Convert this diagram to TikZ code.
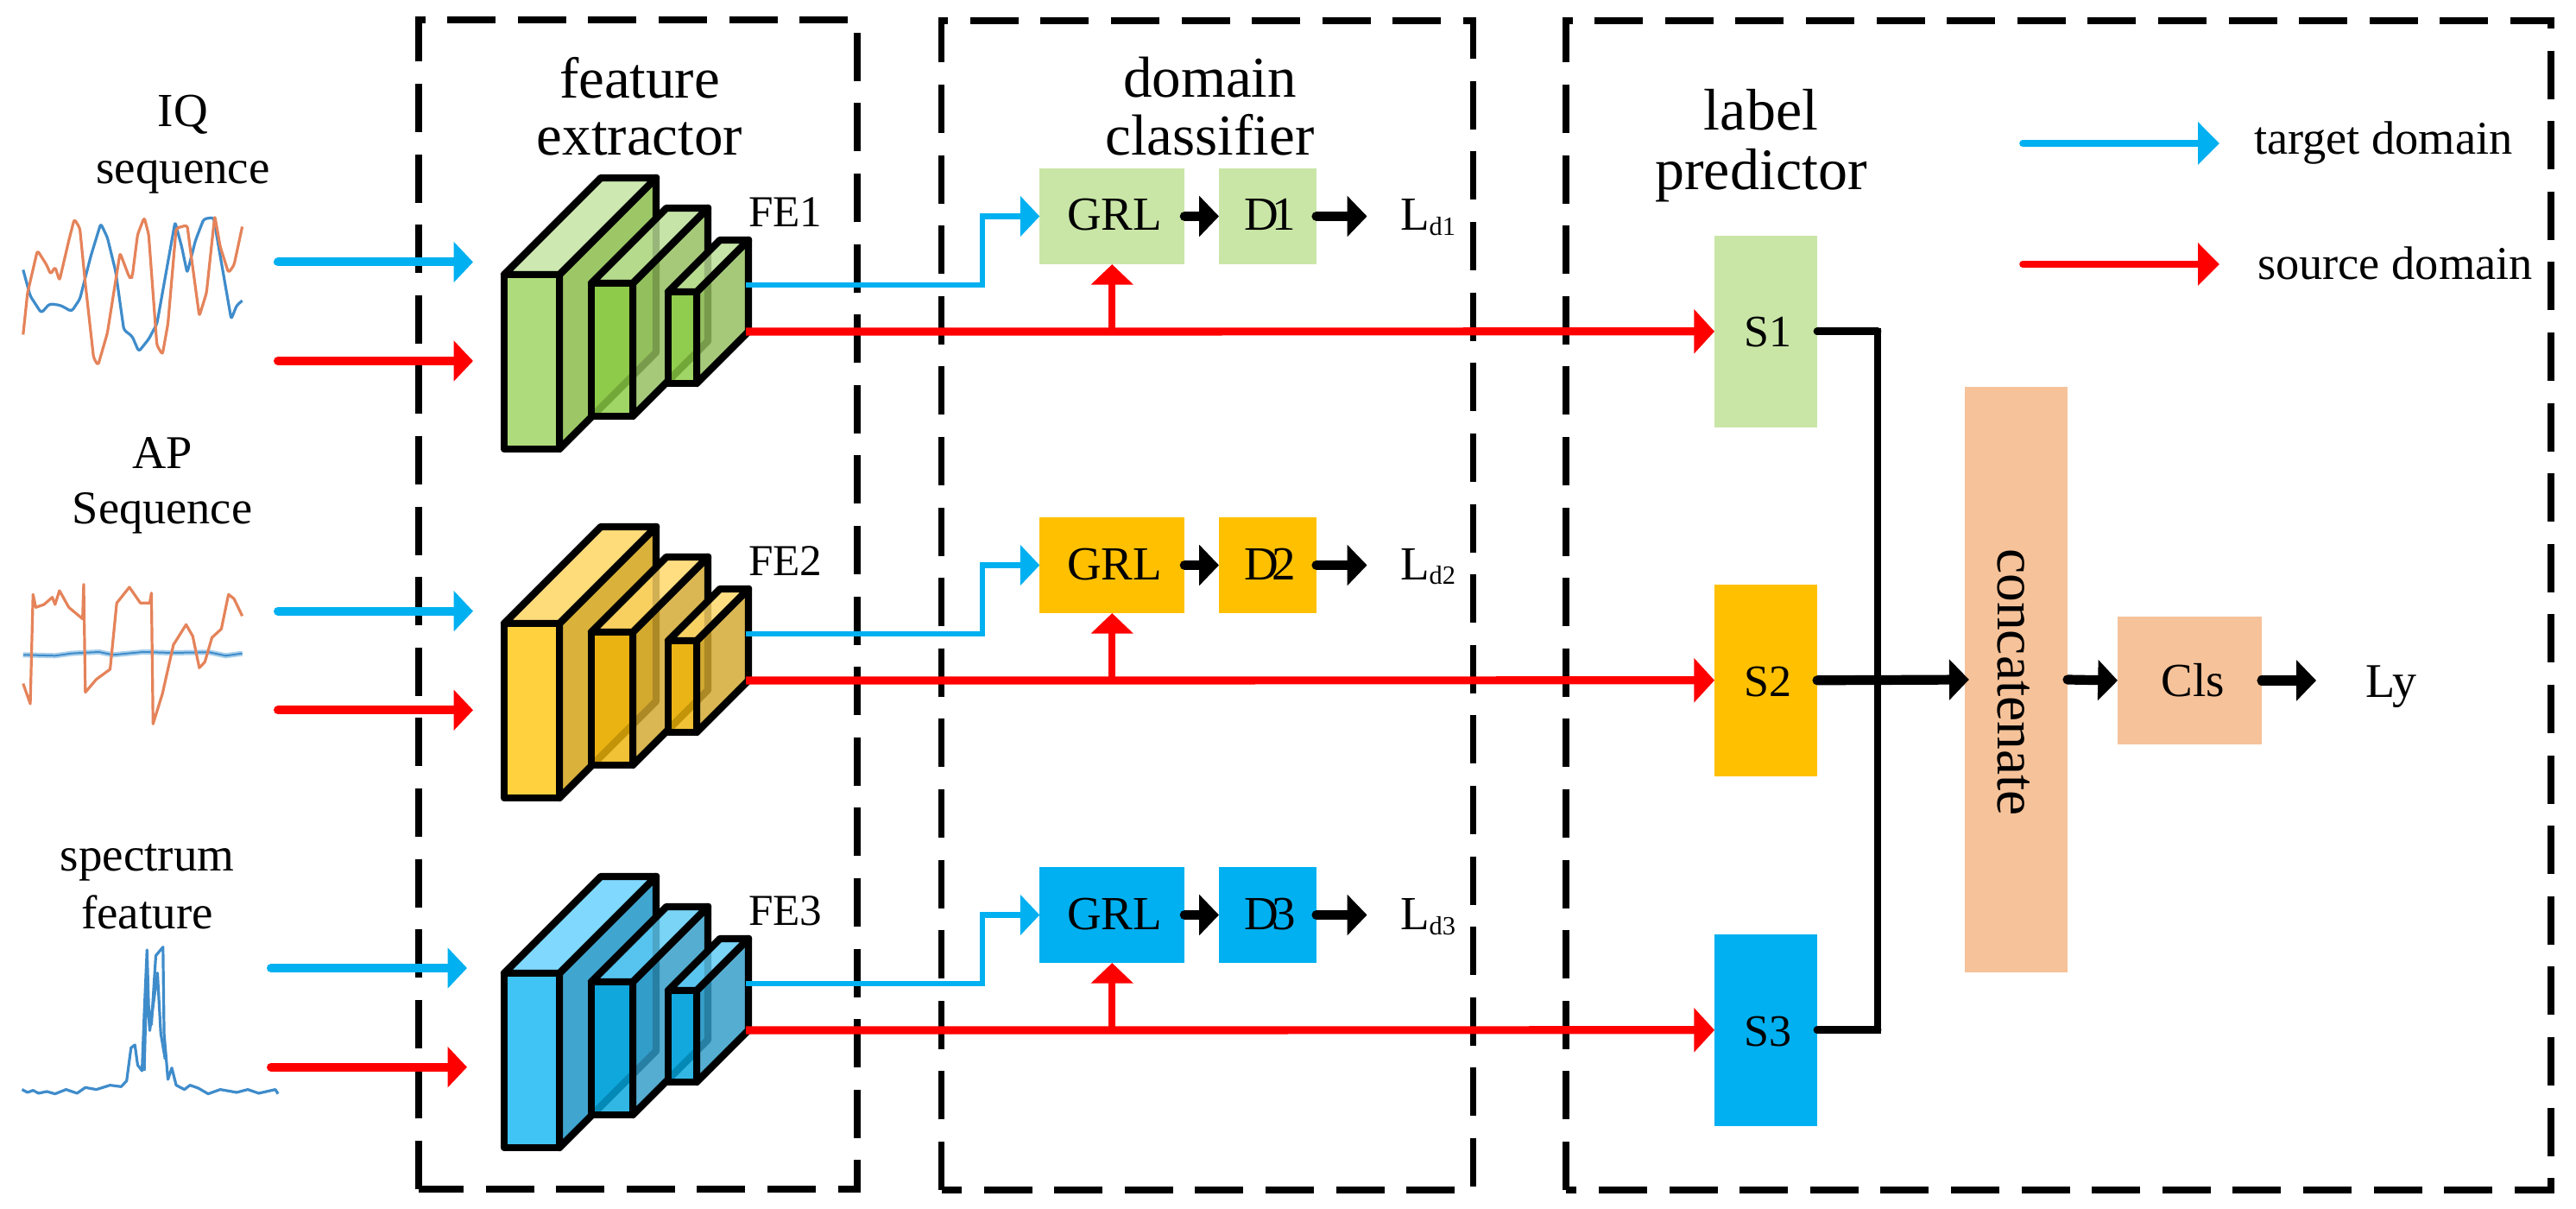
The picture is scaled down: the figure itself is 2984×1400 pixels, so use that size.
\documentclass[tikz,border=0pt]{standalone}
\usepackage{fontspec}
\setmainfont{Liberation Serif}
\usetikzlibrary{arrows.meta,calc}
\definecolor{cblue}{HTML}{00B0F0}
\definecolor{cred}{HTML}{FF0000}
\definecolor{lgreen}{HTML}{C9E6A7}
\definecolor{lorange}{HTML}{FFC000}
\definecolor{peach}{HTML}{F6C299}
\definecolor{wfo}{HTML}{E5835A}
\definecolor{wfb}{HTML}{3F8CCB}
\definecolor{wfl}{HTML}{A9CFEA}
% cuboid colours: front, top, side, mid-front, mid-top, mid-side
\definecolor{gf}{HTML}{AEDC7C}\definecolor{gt}{HTML}{CDE8B0}\definecolor{gs}{HTML}{9DC766}
\definecolor{gm}{HTML}{8CCD45}\definecolor{gmt}{HTML}{BBDF95}\definecolor{gms}{HTML}{92BE5C}
\definecolor{yf}{HTML}{FFD13F}\definecolor{yt}{HTML}{FFDC7A}\definecolor{ys}{HTML}{D9B13B}
\definecolor{ym}{HTML}{EFB40A}\definecolor{ymt}{HTML}{FFD767}\definecolor{yms}{HTML}{D2A82C}
\definecolor{bf}{HTML}{40C4F5}\definecolor{bt}{HTML}{80D8FF}\definecolor{bs}{HTML}{40A5CF}
\definecolor{bm}{HTML}{05A8E0}\definecolor{bmt}{HTML}{5CCBF5}\definecolor{bms}{HTML}{309CC8}
\tikzset{
  x=0.25pt,y=-0.25pt,
  dashbox/.style={draw=black,line width=1.9pt,dash pattern=on 14pt off 6.4pt},
  cubeline/.style={draw=black,line width=2.1pt,line join=round},
  block/.style={rectangle,draw=none,inner sep=0pt,outer sep=0pt,minimum width=#1},
  txt/.style={inner sep=0pt,outer sep=0pt,font=\fontsize{13.75pt}{16.5pt}\selectfont},
  big/.style={inner sep=0pt,outer sep=0pt,align=center,font=\fontsize{16.75pt}{16.5pt}\selectfont},
  wave/.style={line width=0.8pt,line join=round,rounded corners=0.8pt},
  inblue/.style={draw=cblue,line width=2.5pt,line cap=round,-{Triangle[length=5.6pt,width=11.5pt]}},
  inred/.style={draw=cred,line width=2.5pt,line cap=round,-{Triangle[length=5.6pt,width=11.5pt]}},
  legblue/.style={draw=cblue,line width=1.9pt,line cap=round,-{Triangle[length=6.2pt,width=12pt]}},
  legred/.style={draw=cred,line width=1.9pt,line cap=round,-{Triangle[length=6.2pt,width=12pt]}},
  fewire/.style={draw=cblue,line width=1.7pt,line join=miter,-{Triangle[length=5.6pt,width=11.5pt]}},
  redbus/.style={draw=cred,line width=2.3pt,-{Triangle[length=5.9pt,width=12.5pt]}},
  redup/.style={draw=cred,line width=1.9pt,-{Triangle[length=5.9pt,width=12pt]}},
  blk/.style={draw=black,line width=2.8pt,line cap=round,-{Triangle[length=5.7pt,width=11.5pt]}},
}
\newcommand{\cuboid}[9]{%
  \draw[cubeline,fill=#8,fill opacity=#9] (#3,#2)--(#3+#5,#2-#5)--(#3+#5,#4-#5)--(#3,#4)--cycle;
  \draw[cubeline,fill=#7,fill opacity=#9] (#1,#2)--(#3,#2)--(#3+#5,#2-#5)--(#1+#5,#2-#5)--cycle;
  \draw[cubeline,fill=#6,fill opacity=#9] (#1,#2) rectangle (#3,#4);
}
% \rowblock{n}{front}{top}{side}{mfront}{mtop}{mside}{box colour}
\newcommand{\rowblock}[8]{%
  \cuboid{584}{318}{648}{520}{112}{#2}{#3}{#4}{1}
  \cuboid{685}{328}{733}{482}{87}{#5}{#6}{#7}{.82}
  \cuboid{774}{338}{807}{444}{60}{#5}{#6}{#7}{.82}
  \node[txt,anchor=base west,font=\fontsize{12.8pt}{15pt}\selectfont] (felab#1) at (867,262.5) {FE#1};
  \coordinate (fe#1t) at (864,330);
  \coordinate (fe#1r) at (864,384);
  \coordinate (k#1) at (1138,330);
  \node[block=42pt,minimum height=27.8pt,fill=#8] (grl#1) at (1288.25,250.5) {};
  \node[txt,anchor=base] (grltxt#1) at (1291,267) {GRL};
  \node[block=28.25pt,minimum height=27.8pt,fill=#8] (d#1) at (1468.5,250.5) {};
  \node[txt,anchor=base] (dtxt#1) at (1471,267) {D\kern-2pt#1};
  \coordinate (l#1) at (1583.5,250.5);
  \node[txt,anchor=base west] (ld#1) at (1622,267) {L\raisebox{-1.5pt}{\fontsize{7.6pt}{9pt}\selectfont d#1}};
  \node[block=29.75pt,minimum height=55.4pt,fill=#8] (s#1) at (2045.5,383.8) {};
  \node[txt,anchor=base,font=\fontsize{13pt}{15pt}\selectfont] (stxt#1) at (2048,402) {S#1};
  \draw[fewire] (fe#1t) -- (k#1) |- (grl#1.west);
  \draw[redbus] (fe#1r) -- (s#1.west);
  \draw[redup] (grl#1.south |- fe#1r) -- (grl#1.south);
  \draw[blk] (grl#1.east) -- (d#1.west);
  \draw[blk] (d#1.east) -- (l#1);
}
\begin{document}
\begin{tikzpicture}
\useasboundingbox (0,0) rectangle (2984,1400);
\fill[white] (0,0) rectangle (2984,1400);

% dashed containers
\draw[dashbox] (485,1377) rectangle (993,23);
\draw[dashbox] (1090.5,1378) rectangle (1706.6,24);
\draw[dashbox] (1814,1378) rectangle (2955,24);

% titles
\node[big] (t1) at (741,123.6) {feature\\extractor};
\node[big,font=\fontsize{16.75pt}{16.75pt}\selectfont] (t2) at (1401.5,123) {domain\\classifier};
\node[big,font=\fontsize{17pt}{17.25pt}\selectfont] (t3) at (2040,168.5) {label\\predictor};

% inputs
\node[txt,align=center] (in1) at (212,166.8) {IQ\\sequence};
\node[txt,align=center,font=\fontsize{13.6pt}{16pt}\selectfont] (in2) at (188,562.5) {AP\\Sequence};
\node[txt,align=center,font=\fontsize{13.75pt}{16.7pt}\selectfont] (in3) at (170.5,1027) {spectrum\\feature};

% waveforms
\begin{scope}[xscale=0.6378,yscale=0.3571]
\draw[wave,wfb] (42,875)--(55,960)--(75,1015)--(90,985)--(110,990)--(130,1010)--(145,970)--(165,830)--(183,725)--(195,770)--(210,880)--(225,1070)--(240,1090)--(252,1140)--(270,1100)--(285,1050)--(300,900)--(318,720)--(330,800)--(340,885)--(355,780)--(370,710)--(388,705)--(400,830)--(420,1035)--(430,990)--(440,975);
\draw[wave,wfo] (42,1085)--(50,950)--(68,812)--(85,860)--(92,890)--(100,865)--(108,910)--(125,780)--(135,710)--(145,740)--(155,920)--(170,1160)--(178,1185)--(195,1080)--(218,820)--(235,900)--(240,900)--(250,760)--(262,705)--(270,760)--(285,1120)--(295,1150)--(305,1050)--(320,740)--(340,730)--(345,800)--(362,1025)--(375,950)--(390,700)--(400,800)--(415,885)--(425,860)--(440,735);
\end{scope}
\begin{scope}[shift={(0,480)},xscale=0.6378,yscale=0.3333]
\draw[line width=1.5pt,wfl] (42,835)--(100,838)--(130,830)--(180,825)--(205,835)--(260,825)--(310,828)--(380,826)--(410,838)--(440,830);
\draw[line width=0.5pt,wfb] (42,835)--(100,838)--(130,830)--(180,825)--(205,835)--(260,825)--(310,828)--(380,826)--(410,838)--(440,830);
\draw[line width=0.8pt,line join=round,wfo] (42,935)--(55,1005)--(60,625)--(65,670)--(80,660)--(95,635)--(100,660)--(108,612)--(125,670)--(150,710)--(152,590)--(155,965)--(175,920)--(200,885)--(212,655)--(235,600)--(255,655)--(272,655)--(275,620)--(278,1075)--(295,970)--(315,800)--(338,730)--(350,770)--(362,880)--(372,860)--(385,775)--(402,745)--(415,625)--(425,640)--(440,700);
\end{scope}
\begin{scope}[shift={(0,940)},xscale=0.6378,yscale=0.3333]
\draw[line width=0.8pt,line join=round,wfb] (40,965)--(50,975)--(60,968)--(70,978)--(85,972)--(100,980)--(120,965)--(140,978)--(155,958)--(175,965)--(200,950)--(220,955)--(230,935)--(238,820)--(245,810)--(250,880)--(258,900)--(262,700)--(267,480)--(270,680)--(275,740)--(283,500)--(296,470)--(298,770)--(305,930)--(312,890)--(320,950)--(335,965)--(345,950)--(360,960)--(378,980)--(400,965)--(430,975)--(450,965)--(470,978)--(500,965)--(505,980);
\draw[line width=0.8pt,line join=round,wfb] (262,900)--(266,600)--(272,760)--(286,560)--(292,770)--(300,860);
\end{scope}

% input arrows
\coordinate (a1s) at (322,303.5); \coordinate (a1e) at (548,303.5);
\coordinate (b1s) at (322,418);   \coordinate (b1e) at (548,418);
\coordinate (a2s) at (322,707.7); \coordinate (a2e) at (548,707.7);
\coordinate (b2s) at (322,822.3); \coordinate (b2e) at (548,822.3);
\coordinate (a3s) at (314,1121);  \coordinate (a3e) at (541,1121);
\coordinate (b3s) at (314,1235.7);\coordinate (b3e) at (541,1235.7);
\draw[inblue] (a1s) -- (a1e); \draw[inred] (b1s) -- (b1e);
\draw[inblue] (a2s) -- (a2e); \draw[inred] (b2s) -- (b2e);
\draw[inblue] (a3s) -- (a3e); \draw[inred] (b3s) -- (b3e);

% three rows
\begin{scope}
\rowblock{1}{gf}{gt}{gs}{gm}{gmt}{gms}{lgreen}
\end{scope}
\begin{scope}[shift={(0,404)}]
\rowblock{2}{yf}{yt}{ys}{ym}{ymt}{yms}{lorange}
\end{scope}
\begin{scope}[shift={(0,809)}]
\rowblock{3}{bf}{bt}{bs}{bm}{bmt}{bms}{cblue}
\end{scope}

% right part
\node[block=29.75pt,minimum height=169.5pt,fill=peach] (con) at (2335.5,787) {};
\node[inner sep=0pt,outer sep=0pt,rotate=-90,font=\fontsize{16.4pt}{18pt}\selectfont] (contxt) at (2333,790) {concatenate};
\node[block=41.75pt,minimum height=36.9pt,fill=peach] (cls) at (2536.5,788) {};
\node[txt,anchor=base] (clstxt) at (2540,806) {Cls};
\node[txt,anchor=base west,font=\fontsize{14pt}{16pt}\selectfont] (ly) at (2740,807) {Ly};
\coordinate (lyin) at (2683,788);
\coordinate (bus) at (2175,383.8);
\draw[draw=black,line width=1.9pt,line cap=round,line join=miter] (s1.east) -- (bus) |- (s3.east);
\draw[draw=black,line width=2.2pt,line cap=round] (s1.east) -- (bus);
\draw[draw=black,line width=2.2pt,line cap=round] (s3.east) -- (bus |- s3.east);
\draw[blk,shorten >=-1.2pt] (s2.east) -- (con.west);
\draw[blk] (con.east) -- (cls.west);
\draw[blk] (cls.east) -- (lyin);

% legend
\coordinate (lb1) at (2343,166); \coordinate (lb2) at (2571,166);
\coordinate (lr1) at (2343,306); \coordinate (lr2) at (2571,306);
\draw[legblue] (lb1) -- (lb2);
\draw[legred] (lr1) -- (lr2);
\node[txt,anchor=base west,font=\fontsize{13.6pt}{16pt}\selectfont] (lt) at (2611,178.6) {target domain};
\node[txt,anchor=base west,font=\fontsize{13.6pt}{16pt}\selectfont] (ls) at (2615,323.6) {source domain};
\end{tikzpicture}
\end{document}
